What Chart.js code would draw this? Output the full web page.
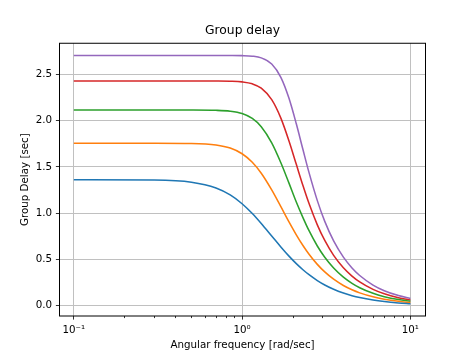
<!DOCTYPE html>
<html>
<head>
<meta charset="utf-8">
<script src="https://cdn.jsdelivr.net/npm/chart.js@4.4.0/dist/chart.umd.min.js"></script>
<style>
html,body{margin:0;padding:0;background:#fff;}
#wrap{width:474px;height:355px;}
</style>
</head>
<body>
<div id="wrap"><canvas id="c" width="474" height="355"></canvas></div>
<script>
// Angular frequency samples [rad/sec]
const freqs = [0.1,0.3,0.5,0.7,0.85,1.0,1.15,1.3,1.5,1.7,1.9,2.1,2.3,2.5,2.8,3.1,3.5,4,4.5,5,6,7,8.5,10];
// Group delay [sec] of each curve
const delayBlue   = [1.3616,1.3577,1.3341,1.2721,1.1967,1.1016,0.9957,0.8879,0.7528,0.6348,0.5360,0.4548,0.3886,0.3347,0.2714,0.2238,0.1771,0.1364,0.1082,0.0878,0.0611,0.0449,0.0305,0.0220];
const delayOrange = [1.7557,1.7555,1.7526,1.7362,1.7027,1.6414,1.5492,1.4307,1.2505,1.0696,0.9059,0.7663,0.6509,0.5566,0.4467,0.3650,0.2861,0.2184,0.1720,0.1389,0.0961,0.0704,0.0476,0.0343];
const delayGreen  = [2.1139,2.1139,2.1137,2.1107,2.1011,2.0757,2.0229,1.9338,1.7591,1.5443,1.3242,1.1202,0.9519,0.8103,0.6453,0.5235,0.4072,0.3087,0.2420,0.1948,0.1342,0.0981,0.0662,0.0477];
const delayRed    = [2.4274,2.4274,2.4274,2.4270,2.4251,2.4178,2.3968,2.3498,2.2254,2.0260,1.7793,1.5270,1.2978,1.1030,0.8736,0.7047,0.5444,0.4103,0.3204,0.2573,0.1765,0.1287,0.0867,0.0624];
const delayPurple = [2.7034,2.7034,2.7034,2.7034,2.7031,2.7015,2.6954,2.6771,2.6111,2.4675,2.2407,1.9650,1.6870,1.4373,1.1352,0.9111,0.6996,0.5243,0.4079,0.3266,0.2234,0.1626,0.1094,0.0787];

const seriesList = [delayBlue, delayOrange, delayGreen, delayRed, delayPurple];
const colors = ['#1f77b4','#ff7f0e','#2ca02c','#d62728','#9467bd'];

const xMajorTicks = [0.1, 1, 10];
const xMajorLabels = ['10\u207B\u00B9', '10\u2070', '10\u00B9'];
const xMinorTicks = [0.2,0.3,0.4,0.5,0.6,0.7,0.8,0.9,2,3,4,5,6,7,8,9];
const yTicks = [0.0, 0.5, 1.0, 1.5, 2.0, 2.5];

Chart.defaults.font.family = 'DejaVu Sans';
Chart.defaults.font.size = 10.3;
Chart.defaults.color = '#000';

const datasets = seriesList.map((s, i) => ({
  data: freqs.map((f, j) => ({x: f, y: s[j]})),
  borderColor: colors[i],
  backgroundColor: colors[i],
  borderWidth: 1.55,
  pointRadius: 0,
  fill: false,
  cubicInterpolationMode: 'monotone'
}));

const framePlugin = {
  id: 'frame',
  afterDraw(chart) {
    const {ctx, chartArea: a} = chart;
    const xs = chart.scales.x;
    ctx.save();
    ctx.strokeStyle = '#000';
    ctx.lineWidth = 0.8;
    ctx.beginPath();
    xMinorTicks.forEach(v => {
      const px = Math.round(xs.getPixelForValue(v)) + 0.5;
      ctx.moveTo(px, a.bottom);
      ctx.lineTo(px, a.bottom + 2.1);
    });
    ctx.stroke();
    ctx.lineWidth = 1;
    ctx.strokeRect(a.left, a.top, a.right - a.left, a.bottom - a.top);
    ctx.restore();
  }
};

new Chart(document.getElementById('c'), {
  type: 'line',
  data: { datasets },
  plugins: [framePlugin],
  options: {
    responsive: false,
    animation: false,
    layout: { padding: { left: 0, right: 48.5, top: 0, bottom: 0 } },
    plugins: {
      legend: { display: false },
      tooltip: { enabled: false },
      title: {
        display: true,
        text: 'Group delay',
        fullSize: false,
        font: { size: 12.3, weight: 'normal' },
        color: '#000',
        padding: { top: 23.8, bottom: 4.7 }
      }
    },
    scales: {
      x: {
        type: 'logarithmic',
        min: Math.pow(10, -1.085),
        max: Math.pow(10, 1.09),
        afterBuildTicks: s => { s.ticks = xMajorTicks.map(v => ({value: v, major: true})); },
        afterFit: s => { s.height = 39; },
        border: { display: false },
        grid: {
          color: '#c0c0c0',
          lineWidth: 1,
          tickColor: '#000',
          tickLength: 3.6,
          tickWidth: 0.8
        },
        ticks: {
          autoSkip: false,
          maxRotation: 0,
          padding: 4.6,
          callback: (v) => { const i = xMajorTicks.indexOf(v); return i >= 0 ? xMajorLabels[i] : ''; }
        },
        title: {
          display: true,
          text: 'Angular frequency [rad/sec]',
          font: { size: 10.3 },
          padding: { top: 0, bottom: 3.1 }
        }
      },
      y: {
        type: 'linear',
        min: -0.111,
        max: 2.835,
        afterBuildTicks: s => { s.ticks = yTicks.map(v => ({value: v})); },
        afterFit: s => { s.width = 59.5; },
        border: { display: false },
        grid: {
          color: '#c0c0c0',
          lineWidth: 1,
          tickColor: '#000',
          tickLength: 3.6,
          tickWidth: 0.8
        },
        ticks: {
          padding: 3.8,
          callback: v => Number(v).toFixed(1)
        },
        title: {
          display: true,
          text: 'Group Delay [sec]',
          font: { size: 10.3 },
          padding: { top: 18.8, bottom: 0 }
        }
      }
    }
  }
});
</script>
</body>
</html>
